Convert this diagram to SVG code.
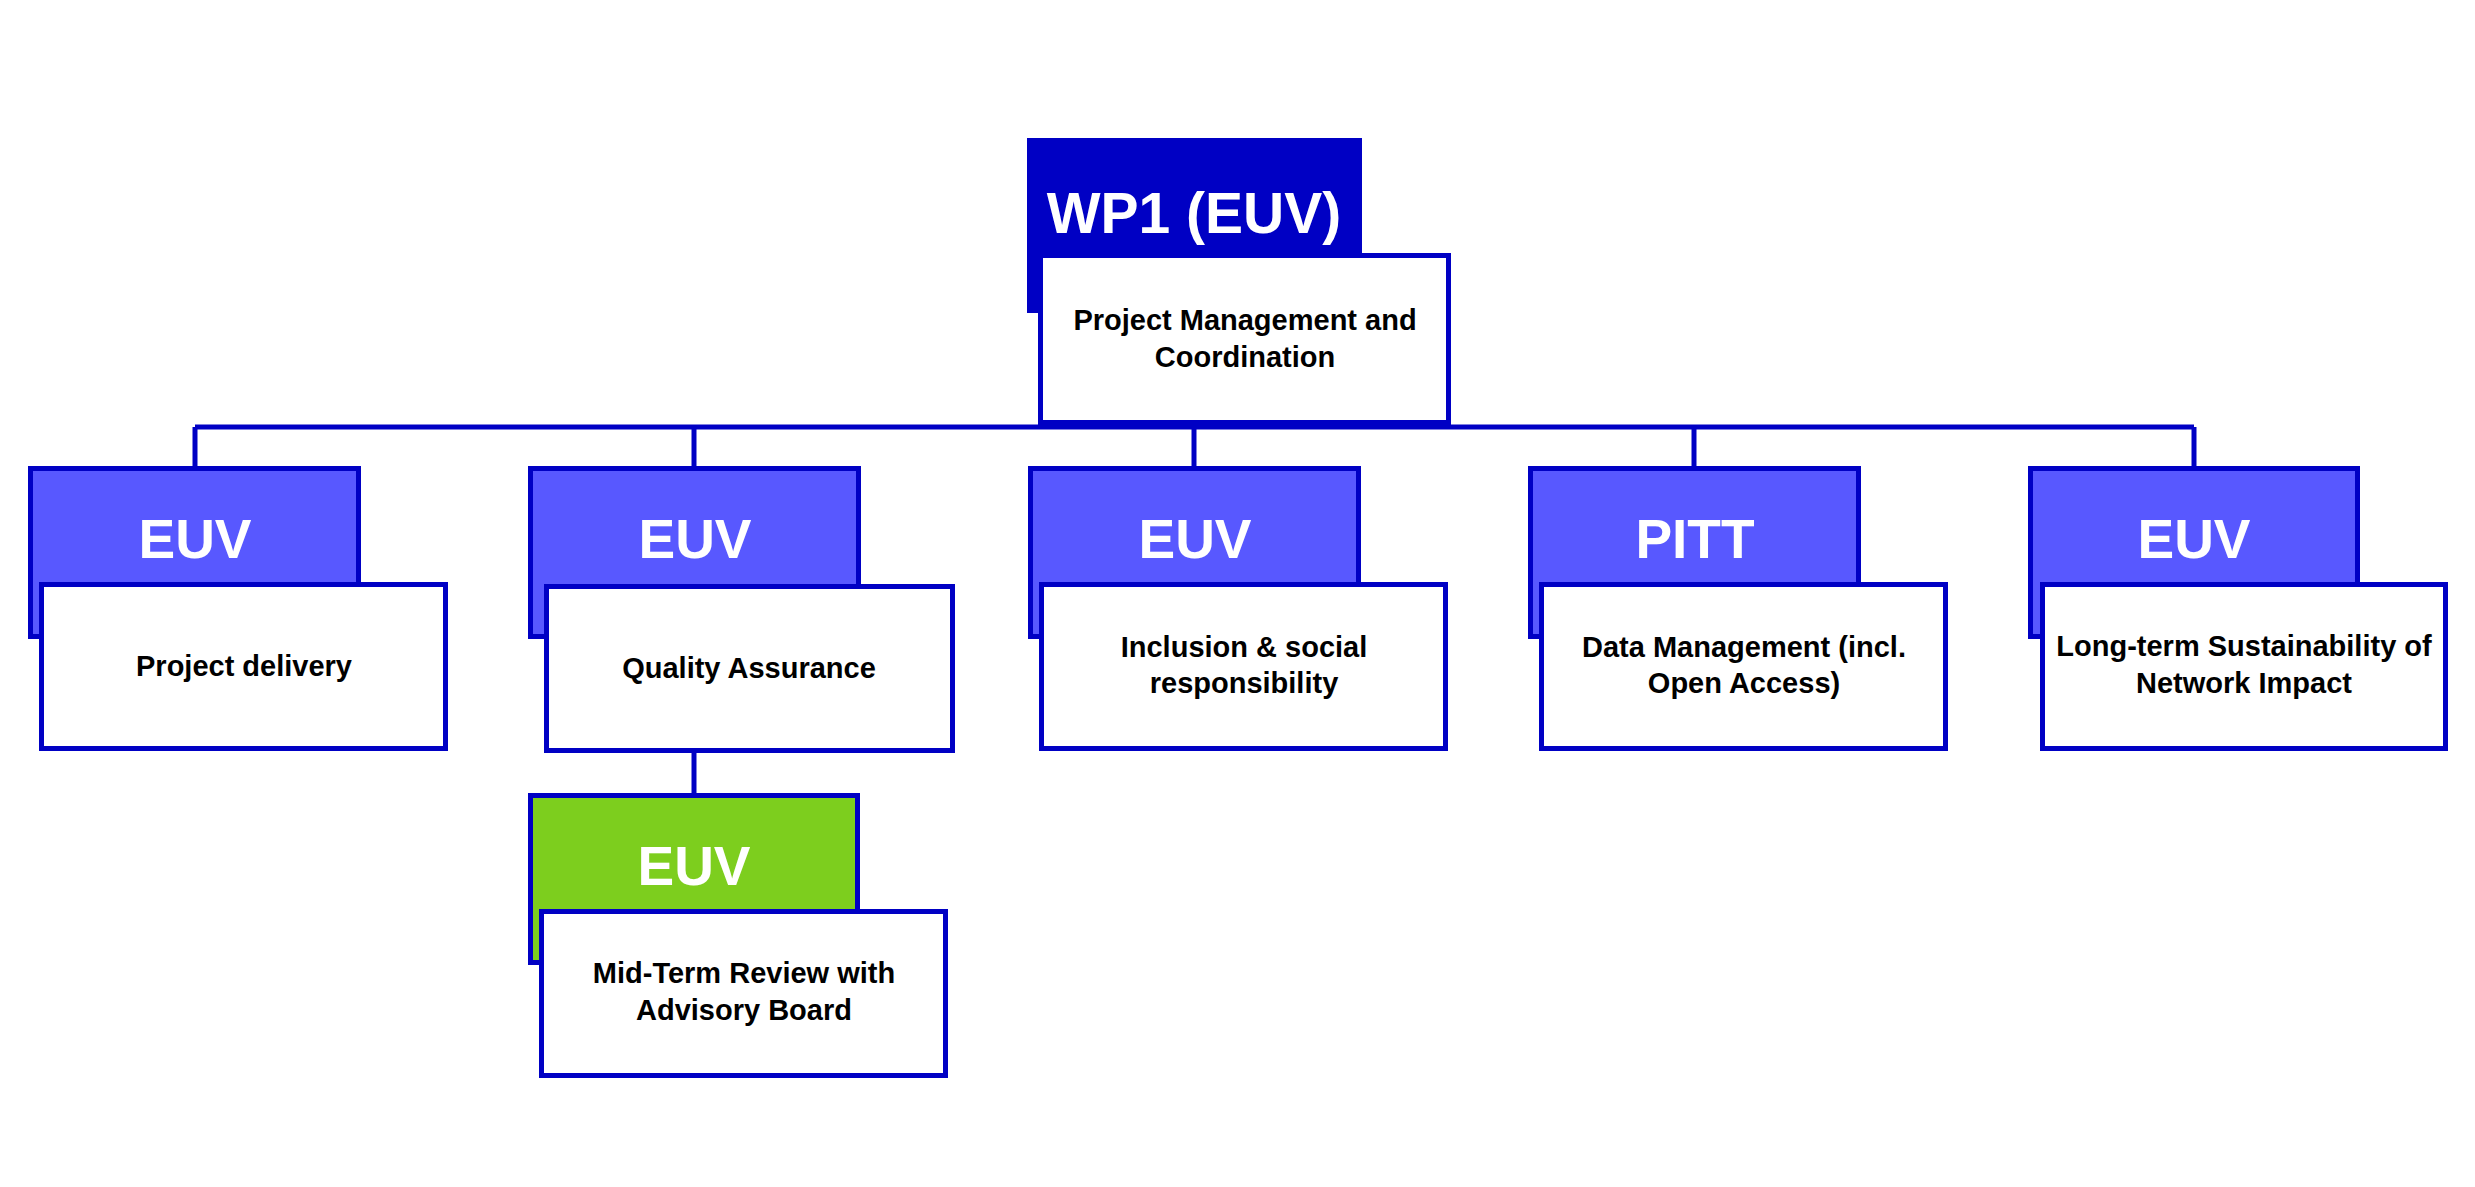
<svg xmlns="http://www.w3.org/2000/svg" width="2475" height="1187" viewBox="0 0 2475 1187">
<style>
.conn{stroke:#0000C4;stroke-width:5;fill:none}
.hdr{fill:#5858FF;stroke:#0000C4;stroke-width:5}
.hdrg{fill:#7DCE1E;stroke:#0000C4;stroke-width:5}
.hdrtop{fill:#0000C4;stroke:#0000C4;stroke-width:5}
.box{fill:#FFFFFF;stroke:#0000C4;stroke-width:5}
.ht{font-family:"Liberation Sans",Arial,sans-serif;font-weight:bold;font-size:55px;fill:#FFFFFF;text-anchor:middle}
.bt{font-family:"Liberation Sans",Arial,sans-serif;font-weight:bold;font-size:29px;fill:#000000;text-anchor:middle}
</style>
<rect width="2475" height="1187" fill="#FFFFFF"/>
<g id="connectors">
<path class="conn" d="M195 427H2194"/>
<path class="conn" d="M1194 425V466"/>
<path class="conn" d="M195 427V466"/>
<path class="conn" d="M694 427V466"/>
<path class="conn" d="M1694 427V466"/>
<path class="conn" d="M2194 427V466"/>
<path class="conn" d="M694 753V793"/>
</g>
<g id="wp1">
<rect class="hdrtop" x="1029.5" y="140.5" width="330" height="170"/>
<text class="ht" x="1194" y="233" style="font-size:57px">WP1 (EUV)</text>
<rect class="box" x="1040.5" y="255.5" width="408" height="167"/>
<text class="bt" x="1245" y="330">Project Management and</text>
<text class="bt" x="1245" y="367">Coordination</text>
</g>
<g id="project-delivery">
<rect class="hdr" x="30.5" y="468.5" width="328" height="168"/>
<text class="ht" x="195" y="558">EUV</text>
<rect class="box" x="41.5" y="584.5" width="404" height="164"/>
<text class="bt" x="244" y="676">Project delivery</text>
</g>
<g id="quality-assurance">
<rect class="hdr" x="530.5" y="468.5" width="328" height="168"/>
<text class="ht" x="695" y="558">EUV</text>
<rect class="box" x="546.5" y="586.5" width="406" height="164"/>
<text class="bt" x="749" y="678">Quality Assurance</text>
</g>
<g id="mid-term-review">
<rect class="hdrg" x="530.5" y="795.5" width="327" height="167"/>
<text class="ht" x="694" y="885">EUV</text>
<rect class="box" x="541.5" y="911.5" width="404" height="164"/>
<text class="bt" x="744" y="983">Mid-Term Review with</text>
<text class="bt" x="744" y="1020">Advisory Board</text>
</g>
<g id="inclusion">
<rect class="hdr" x="1030.5" y="468.5" width="328" height="168"/>
<text class="ht" x="1195" y="558">EUV</text>
<rect class="box" x="1041.5" y="584.5" width="404" height="164"/>
<text class="bt" x="1244" y="657">Inclusion &amp; social</text>
<text class="bt" x="1244" y="693">responsibility</text>
</g>
<g id="data-management">
<rect class="hdr" x="1530.5" y="468.5" width="328" height="168"/>
<text class="ht" x="1695" y="558">PITT</text>
<rect class="box" x="1541.5" y="584.5" width="404" height="164"/>
<text class="bt" x="1744" y="657">Data Management (incl.</text>
<text class="bt" x="1744" y="693">Open Access)</text>
</g>
<g id="sustainability">
<rect class="hdr" x="2030.5" y="468.5" width="327" height="168"/>
<text class="ht" x="2194" y="558">EUV</text>
<rect class="box" x="2042.5" y="584.5" width="403" height="164"/>
<text class="bt" x="2244" y="656">Long-term Sustainability of</text>
<text class="bt" x="2244" y="693">Network Impact</text>
</g>
</svg>
